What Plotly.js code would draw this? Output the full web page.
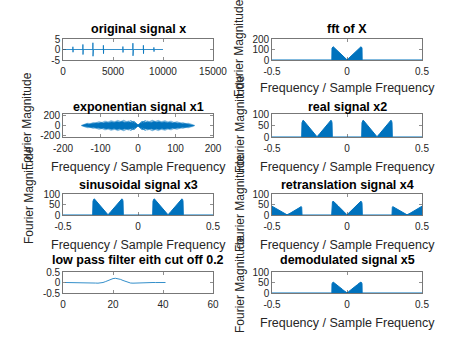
<!DOCTYPE html>
<html>
<head>
<meta charset="utf-8">
<script src="https://cdn.plot.ly/plotly-3.0.1.min.js"></script>
<style>html,body{margin:0;padding:0;background:#fff;}#chart{width:474px;height:355px;}</style>
</head>
<body>
<div id="chart"></div>
<script>
// ---------- data ----------
// original signal x (sample index, amplitude)
const sigN = [0, 980, 990, 1000, 1010, 1020, 1980, 1990, 2000, 2010, 2020, 2030,
  2980, 2990, 3000, 3010, 3020, 3030, 3040, 3050, 4030, 4040, 4050, 4060, 4070,
  5980, 5990, 6000, 6010, 6020, 6980, 6990, 7000, 7010, 7020, 7030, 7040, 7050,
  8030, 8040, 8050, 8060, 8070, 9080, 9090, 9100, 9110, 9120, 10000];
const sigV = [0, 0, 1.3, -1.3, 1.1, 0, 0, 2.4, -2.4, 2.2, -1.8, 0,
  0, 3.2, -3.2, 2.8, -2.5, 3.0, -2.6, 0, 0, 2.0, -2.0, 1.7, 0,
  0, 1.4, -1.4, 1.2, 0, 0, 3.0, -3.0, 2.6, -2.4, 2.8, -2.5, 0,
  0, 2.0, -2.0, 1.8, 0, 0, 1.0, -1.0, 0.9, 0, 0];

// fft of X
const fftF = [-0.5, -0.101, -0.1, -0.097, -0.093, -0.09, -0.08, -0.07, -0.06, -0.05, -0.04, -0.03, -0.02, -0.01, 0,
  0.01, 0.02, 0.03, 0.04, 0.05, 0.06, 0.07, 0.08, 0.09, 0.093, 0.097, 0.1, 0.101, 0.5];
const fftM = [0, 0, 112, 122, 126, 124, 111, 97, 83, 69, 56, 42, 28, 14, 2,
  14, 28, 42, 56, 69, 83, 97, 111, 124, 126, 122, 112, 0, 0];

// exponentian signal x1 (real, imaginary) outline of the dense cloud
const x1Re = [-150, -146, -140, -136, -132, -125, -118, -112, -106, -98, -92, -85, -78, -70, -64, -56, -50, -42, -36, -28, -22, -16, -10, -6, -3, 0,
  3, 6, 10, 16, 22, 28, 36, 42, 50, 56, 64, 70, 78, 85, 92, 98, 106, 112, 118, 125, 132, 136, 140, 146, 150,
  146, 140, 136, 132, 125, 118, 112, 106, 98, 92, 85, 78, 70, 64, 56, 50, 42, 36, 28, 22, 16, 10, 6, 3, 0,
  -3, -6, -10, -16, -22, -28, -36, -42, -50, -56, -64, -70, -78, -85, -92, -98, -106, -112, -118, -125, -132, -136, -140, -146, -150];
const x1Im = [0, 12, 20, 34, 26, 38, 35, 52, 44, 58, 50, 66, 56, 72, 60, 76, 64, 80, 62, 72, 52, 60, 34, 50, 12, 6,
  12, 50, 34, 60, 52, 72, 62, 80, 64, 76, 60, 72, 56, 66, 50, 58, 44, 52, 35, 38, 26, 34, 20, 12, 0,
  -12, -22, -30, -28, -40, -36, -50, -46, -60, -52, -68, -58, -74, -62, -78, -66, -82, -64, -74, -54, -62, -36, -52, -14, -6,
  -14, -52, -36, -62, -54, -74, -64, -82, -66, -78, -62, -74, -58, -68, -52, -60, -46, -50, -36, -40, -28, -30, -22, -12, 0];
const x1HaloRe = [-152, -146, -142, -134, -128, -120, -114, -104, -96, -88, -80, -72, -62, -54, -46, -38, -30, -24, -18, -12, -6, 0,
  6, 12, 18, 24, 30, 38, 46, 54, 62, 72, 80, 88, 96, 104, 114, 120, 128, 134, 142, 146, 152,
  146, 142, 134, 128, 120, 114, 104, 96, 88, 80, 72, 62, 54, 46, 38, 30, 24, 18, 12, 6, 0,
  -6, -12, -18, -24, -30, -38, -46, -54, -62, -72, -80, -88, -96, -104, -114, -120, -128, -134, -142, -146, -152];
const x1HaloIm = [0, 22, 30, 48, 40, 62, 54, 78, 66, 92, 74, 98, 80, 104, 84, 108, 80, 96, 70, 86, 40, 14,
  40, 86, 70, 96, 80, 108, 84, 104, 80, 98, 74, 92, 66, 78, 54, 62, 40, 48, 30, 22, 0,
  -22, -30, -48, -40, -62, -54, -78, -66, -92, -74, -98, -80, -104, -84, -108, -80, -96, -70, -86, -40, -14,
  -40, -86, -70, -96, -80, -108, -84, -104, -80, -98, -74, -92, -66, -78, -54, -62, -40, -48, -30, -22, 0];
const x1CrossRe = [-20, 20, null, -20, 20, null, -12, 12, null, -12, 12, null, -26, 26, null, -26, 26];
const x1CrossIm = [-100, 100, null, 100, -100, null, -90, 90, null, 90, -90, null, -70, 70, null, 70, -70];

// real signal x2
const x2F = [-0.5, -0.302, -0.3, -0.297, -0.293, -0.29, -0.28, -0.26, -0.24, -0.22, -0.2, -0.18, -0.16, -0.14, -0.12, -0.11, -0.107, -0.103, -0.1, -0.098,
  0.098, 0.1, 0.103, 0.107, 0.11, 0.12, 0.14, 0.16, 0.18, 0.2, 0.22, 0.24, 0.26, 0.28, 0.29, 0.293, 0.297, 0.3, 0.302, 0.5];
const x2M = [0, 0, 62, 70, 73, 72, 64, 48, 32, 16, 1, 16, 32, 48, 64, 72, 73, 70, 62, 0,
  0, 62, 70, 73, 72, 64, 48, 32, 16, 1, 16, 32, 48, 64, 72, 73, 70, 62, 0, 0];

// sinusoidal signal x3
const x3F = [-0.5, -0.302, -0.3, -0.297, -0.293, -0.29, -0.28, -0.26, -0.24, -0.22, -0.2, -0.18, -0.16, -0.14, -0.12, -0.11, -0.107, -0.103, -0.1, -0.098,
  0.098, 0.1, 0.103, 0.107, 0.11, 0.12, 0.14, 0.16, 0.18, 0.2, 0.22, 0.24, 0.26, 0.28, 0.29, 0.293, 0.297, 0.3, 0.302, 0.5];
const x3M = [0, 0, 66, 74, 77, 76, 68, 51, 34, 17, 1, 17, 34, 51, 68, 76, 77, 74, 66, 0,
  0, 66, 74, 77, 76, 68, 51, 34, 17, 1, 17, 34, 51, 68, 76, 77, 74, 66, 0, 0];

// retranslation signal x4
const x4F = [-0.5, -0.48, -0.46, -0.44, -0.42, -0.4, -0.38, -0.36, -0.34, -0.32, -0.31, -0.305, -0.302, -0.3,
  -0.102, -0.1, -0.097, -0.093, -0.09, -0.08, -0.06, -0.04, -0.02, 0, 0.02, 0.04, 0.06, 0.08, 0.09, 0.093, 0.097, 0.1, 0.102,
  0.3, 0.302, 0.305, 0.31, 0.32, 0.34, 0.36, 0.38, 0.4, 0.42, 0.44, 0.46, 0.48, 0.5];
const x4M = [42, 34, 25, 17, 8, 1, 8, 17, 25, 34, 38, 40, 36, 0,
  0, 56, 63, 66, 65, 58, 44, 29, 15, 1, 15, 29, 44, 58, 65, 66, 63, 56, 0,
  0, 36, 40, 38, 34, 25, 17, 8, 1, 8, 17, 25, 34, 42];

// low pass filter (41 taps)
const lpN = [1, 2, 3, 4, 5, 6, 7, 8, 9, 10, 11, 12, 13, 14, 15, 16, 17, 18, 19, 20, 21,
  22, 23, 24, 25, 26, 27, 28, 29, 30, 31, 32, 33, 34, 35, 36, 37, 38, 39, 40, 41];
const lpH = [0, -0.001, -0.002, -0.002, -0.002, 0, 0.004, 0.008, 0.01, 0.008, 0, -0.013, -0.026, -0.032, -0.025, 0, 0.043, 0.096, 0.148, 0.186, 0.2,
  0.186, 0.148, 0.096, 0.043, 0, -0.025, -0.032, -0.026, -0.013, 0, 0.008, 0.01, 0.008, 0.004, 0, -0.002, -0.002, -0.002, -0.001, 0];

// demodulated signal x5
const x5F = [-0.5, -0.101, -0.1, -0.097, -0.093, -0.09, -0.08, -0.07, -0.06, -0.05, -0.04, -0.03, -0.02, -0.01, 0,
  0.01, 0.02, 0.03, 0.04, 0.05, 0.06, 0.07, 0.08, 0.09, 0.093, 0.097, 0.1, 0.101, 0.5];
const x5M = [0, 0, 44, 50, 52, 51, 46, 40, 34, 28, 23, 17, 11, 6, 1,
  6, 11, 17, 23, 28, 34, 40, 46, 51, 52, 50, 44, 0, 0];

// tick labels
const ticksSigX = [0, 5000, 10000, 15000];
const ticksSigXT = ['0', '5000', '10000', '15000'];
const ticksSigY = [-5, 0, 5];
const ticksSigYT = ['-5', '0', '5'];
const ticksFreqX = [-0.5, 0, 0.5];
const ticksFreqXT = ['-0.5', '0', '0.5'];
const ticksFftY = [0, 100, 200];
const ticksFftYT = ['0', '100', '200'];
const ticksMagY = [0, 50, 100];
const ticksMagYT = ['0', '50', '100'];
const ticksX1 = [-200, -100, 0, 100, 200];
const ticksX1T = ['-200', '-100', '0', '100', '200'];
const ticksX1Y = [-200, 0, 200];
const ticksX1YT = ['-200', '0', '200'];
const ticksLpX = [0, 20, 40, 60];
const ticksLpXT = ['0', '20', '40', '60'];
const ticksLpY = [-0.5, 0, 0.5];
const ticksLpYT = ['-0.5', '0', '0.5'];

const titles = ['original signal x', 'fft of X', 'exponentian signal x1', 'real signal x2',
  'sinusoidal signal x3', 'retranslation signal x4', 'low pass filter eith cut off 0.2', 'demodulated signal x5'];
const xLabel = 'Frequency / Sample Frequency';
const yLabel = 'Fourier Magnitude';

// ---------- layout helpers ----------
const W = 474, H = 355;
const BLUE = '#0072BD';
const FONT = 'Liberation Sans, Arial, Helvetica, sans-serif';
const colX = [[63, 213], [272, 422]];
const rowY = [[39, 60], [114, 137], [194, 215], [272, 293]];
function xd(c) { return [colX[c][0] / W, colX[c][1] / W]; }
function yd(r) { return [1 - rowY[r][1] / H, 1 - rowY[r][0] / H]; }

function axis(domain, range, tv, tt, anchor, isX) {
  return {
    domain: domain, range: range, anchor: anchor,
    tickmode: 'array', tickvals: tv, ticktext: tt,
    ticks: 'inside', ticklen: 3, tickwidth: 0.6, tickcolor: '#444',
    showline: true, linecolor: '#555', linewidth: 0.8, mirror: 'allticks',
    showgrid: false, zeroline: false, fixedrange: true,
    ticklabelstandoff: isX ? 2 : 0,
    tickfont: {family: FONT, size: 10, color: '#262626'}
  };
}

const traces = [];
function area(x, y, xa, ya) {
  traces.push({x: x, y: y, xaxis: xa, yaxis: ya, type: 'scatter', mode: 'lines',
    line: {color: BLUE, width: 1}, fill: 'tozeroy', fillcolor: BLUE, hoverinfo: 'skip'});
}

// panel 1
traces.push({x: sigN, y: sigV, xaxis: 'x', yaxis: 'y', type: 'scatter', mode: 'lines',
  line: {color: BLUE, width: 0.8}, hoverinfo: 'skip'});
// panel 2
area(fftF, fftM, 'x2', 'y2');
// panel 3
traces.push({x: x1HaloRe, y: x1HaloIm, xaxis: 'x3', yaxis: 'y3', type: 'scatter', mode: 'lines',
  line: {color: 'rgba(0,114,189,0.5)', width: 0.5}, fill: 'toself', fillcolor: 'rgba(0,114,189,0.45)', hoverinfo: 'skip'});
traces.push({x: x1Re, y: x1Im, xaxis: 'x3', yaxis: 'y3', type: 'scatter', mode: 'lines',
  line: {color: BLUE, width: 0.5}, fill: 'toself', fillcolor: BLUE, hoverinfo: 'skip'});
traces.push({x: x1CrossRe, y: x1CrossIm, xaxis: 'x3', yaxis: 'y3', type: 'scatter', mode: 'lines',
  line: {color: BLUE, width: 1}, hoverinfo: 'skip'});
// panel 4..6
area(x2F, x2M, 'x4', 'y4');
area(x3F, x3M, 'x5', 'y5');
area(x4F, x4M, 'x6', 'y6');
// panel 7
traces.push({x: lpN, y: lpH, xaxis: 'x7', yaxis: 'y7', type: 'scatter', mode: 'lines',
  line: {color: BLUE, width: 0.8}, hoverinfo: 'skip'});
// panel 8
area(x5F, x5M, 'x8', 'y8');

const layout = {
  width: W, height: H, margin: {l: 0, r: 0, t: 0, b: 0},
  paper_bgcolor: '#fff', plot_bgcolor: '#fff', showlegend: false,
  font: {family: FONT, color: '#262626'},
  xaxis: axis(xd(0), [0, 15000], ticksSigX, ticksSigXT, 'y', true),
  yaxis: axis(yd(0), [-5, 5], ticksSigY, ticksSigYT, 'x'),
  xaxis2: axis(xd(1), [-0.5, 0.5], ticksFreqX, ticksFreqXT, 'y2', true),
  yaxis2: axis(yd(0), [0, 200], ticksFftY, ticksFftYT, 'x2'),
  xaxis3: axis(xd(0), [-200, 200], ticksX1, ticksX1T, 'y3', true),
  yaxis3: axis(yd(1), [-230, 230], ticksX1Y, ticksX1YT, 'x3'),
  xaxis4: axis(xd(1), [-0.5, 0.5], ticksFreqX, ticksFreqXT, 'y4', true),
  yaxis4: axis(yd(1), [0, 100], ticksMagY, ticksMagYT, 'x4'),
  xaxis5: axis(xd(0), [-0.5, 0.5], ticksFreqX, ticksFreqXT, 'y5', true),
  yaxis5: axis(yd(2), [0, 100], ticksMagY, ticksMagYT, 'x5'),
  xaxis6: axis(xd(1), [-0.5, 0.5], ticksFreqX, ticksFreqXT, 'y6', true),
  yaxis6: axis(yd(2), [0, 100], ticksMagY, ticksMagYT, 'x6'),
  xaxis7: axis(xd(0), [0, 60], ticksLpX, ticksLpXT, 'y7', true),
  yaxis7: axis(yd(3), [-0.5, 0.5], ticksLpY, ticksLpYT, 'x7'),
  xaxis8: axis(xd(1), [-0.5, 0.5], ticksFreqX, ticksFreqXT, 'y8', true),
  yaxis8: axis(yd(3), [0, 100], ticksMagY, ticksMagYT, 'x8'),
  annotations: []
};

function ann(text, px, py, opts) {
  layout.annotations.push(Object.assign({
    text: text, xref: 'paper', yref: 'paper', x: px / W, y: 1 - py / H,
    xanchor: 'center', yanchor: 'middle', showarrow: false,
    font: {family: FONT, size: 12, color: '#262626'}
  }, opts || {}));
}
// titles
const titleY = [29, 107, 185, 259.5];
titles.forEach(function (t, i) {
  const c = i % 2, r = Math.floor(i / 2);
  ann('<b>' + t + '</b>', (colX[c][0] + colX[c][1]) / 2, titleY[r], {font: {family: FONT, size: 12.5, color: '#000'}});
});
// x labels
[[1, 88], [0, 167], [1, 167], [0, 245], [1, 245], [1, 323]].forEach(function (p) {
  ann(xLabel, (colX[p[0]][0] + colX[p[0]][1]) / 2, p[1], {font: {family: FONT, size: 12.5, color: '#262626'}});
});
// y labels
[[27, 121], [29, 195], [239, 48], [240, 124], [240, 203], [240, 284]].forEach(function (p) {
  ann(yLabel, p[0], p[1], {textangle: -90, font: {family: FONT, size: 12, color: '#262626'}});
});

Plotly.newPlot('chart', traces, layout, {staticPlot: true, displayModeBar: false});
</script>
</body>
</html>
